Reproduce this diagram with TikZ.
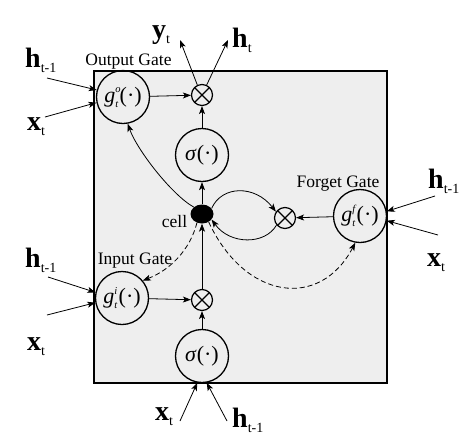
\documentclass[tikz,border=0pt]{standalone}
\usepackage{fontspec}
\setmainfont{Liberation Serif}
\usetikzlibrary{arrows.meta,shapes.geometric}
\definecolor{boxgray}{HTML}{EEEEEE}
\newcommand\vlab[2]{\textbf{#1}\raisebox{-5pt}{\fontsize{14}{14}\selectfont #2}}
\newcommand\gfn[1]{\textit{g}\rlap{\raisebox{9.5pt}{\fontsize{10.5}{11}\selectfont\itshape #1}}\raisebox{-5pt}{\fontsize{10.5}{11}\selectfont\itshape t}\kern1.5pt(·)}
\newcommand\sgfn{\textit{σ}(·)}
\begin{document}
\begin{tikzpicture}[x=1pt,y=-1pt,
  gate/.style={circle,draw,line width=1.3pt,minimum size=53pt,inner sep=0pt,font=\fontsize{22}{24}\selectfont},
  mult/.style={circle,draw,line width=1.2pt,minimum size=21pt,inner sep=0pt,
    path picture={\draw[line width=1.2pt] (path picture bounding box.north west)--(path picture bounding box.south east)
      (path picture bounding box.north east)--(path picture bounding box.south west);}},
  cellst/.style={ellipse,fill=black,minimum width=23pt,minimum height=19pt,inner sep=0pt},
  arr/.style={-{Stealth[length=8pt,width=6pt,inset=2pt]},line width=0.8pt},
  darr/.style={arr,dashed,dash pattern=on 5pt off 3pt},
  lab/.style={font=\fontsize{28}{30}\selectfont,inner sep=0pt,anchor=base west},
  gatelab/.style={font=\fontsize{17.5}{18}\selectfont,inner sep=0pt,anchor=base}]
\useasboundingbox (0,0) rectangle (474,445);
\draw[line width=2.5pt,fill=boxgray] (94,71) rectangle (387,383);
% texts
\node[gatelab] (tog) at (128.5,65) {Output Gate};
\node[gatelab] (tfg) at (338,187) {Forget Gate};
\node[gatelab] (tig) at (135,264) {Input Gate};
\node[gatelab] (tcell) at (174.5,227) {cell};
% nodes
\node[gate] (go) at (123,97) {\gfn{o}};
\node[mult] (mo) at (202,95) {};
\node[gate] (st) at (202,155) {\sgfn};
\node[cellst] (cell) at (202,214) {};
\node[mult] (mf) at (285,218) {};
\node[gate] (gf) at (360,216) {\gfn{f}};
\node[gate] (gi) at (122,298) {\gfn{i}};
\node[mult] (mi) at (202,300) {};
\node[gate] (sb) at (202,356) {\sgfn};
% external labels
\node[lab] (yt) at (152,38) {\vlab{y}{t}};
\node[lab] (ht) at (232,47) {\vlab{h}{t}};
\node[lab] (h1) at (25,67) {\vlab{h}{t-1}};
\node[lab] (x1) at (27,130) {\vlab{x}{t}};
\node[lab] (h2) at (25,267) {\vlab{h}{t-1}};
\node[lab] (x2) at (27,350) {\vlab{x}{t}};
\node[lab] (x3) at (155,420) {\vlab{x}{t}};
\node[lab] (h3) at (232,427) {\vlab{h}{t-1}};
\node[lab] (h4) at (428,188) {\vlab{h}{t-1}};
\node[lab] (x4) at (427,266) {\vlab{x}{t}};
% free ends
\coordinate (ey) at (180,40);
\coordinate (eh) at (228,40);
\coordinate (a1) at (47,78);
\coordinate (a2) at (45,117);
\coordinate (a3) at (48,277);
\coordinate (a4) at (47,315);
\coordinate (a5) at (180,421);
\coordinate (a6) at (227,421);
\coordinate (a7) at (435,196);
\coordinate (a8) at (438,235);
% input arrows
\draw[arr] (a1) -- (go.165);
\draw[arr] (a2) -- (go.192);
\draw[arr] (a3) -- (gi.168);
\draw[arr] (a4) -- (gi.190);
\draw[arr] (a5) -- (sb.-100);
\draw[arr] (a6) -- (sb.-80);
\draw[arr] (a7) -- (gf.10);
\draw[arr] (a8) -- (gf.-10);
% outputs
\draw[arr] (mo.115) -- (ey);
\draw[arr] (mo.65) -- (eh);
% internal
\draw[arr] (go) -- (mo);
\draw[arr] (st) -- (mo);
\draw[arr] (cell) -- (st);
\draw[arr] (mi) -- (cell);
\draw[arr] (sb) -- (mi);
\draw[arr] (gi) -- (mi);
\draw[arr] (gf) -- (mf);
\draw[arr] (cell.140) .. controls (172,195) and (137,150) .. (go.-80);
\draw[arr] (cell.30) .. controls (222,185) and (255,185) .. (mf.145);
\draw[arr] (mf.-140) .. controls (265,245) and (230,245) .. (cell.-30);
\draw[darr] (cell.-120) .. controls (190,250) and (170,270) .. (gi.40);
\draw[darr] (cell.-50) .. controls (245,300) and (320,310) .. (gf.-100);
\end{tikzpicture}
\end{document}
